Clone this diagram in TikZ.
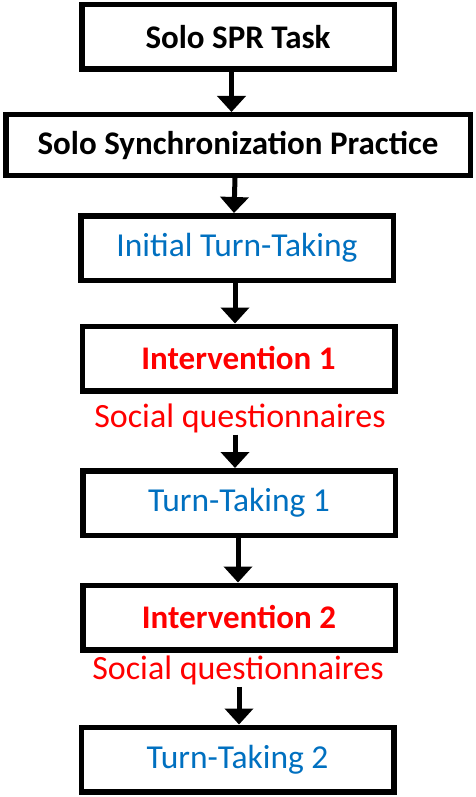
\documentclass[tikz,border=0pt]{standalone}
\usepackage{fontspec}
\setmainfont{Carlito}
\usetikzlibrary{arrows.meta}
\definecolor{ofblue}{RGB}{0,112,192}
\definecolor{ofred}{RGB}{255,0,0}
\tikzset{
  box/.style={draw=black, line width=5.5pt, fill=white, inner sep=0pt,
    minimum width=312.5pt, minimum height=64.5pt, align=center},
  conn/.style={line width=5pt, -{Triangle[width=28pt,length=16pt]}},
  blk/.style={font=\fontsize{33}{38}\selectfont\bfseries, text=black},
  blu/.style={font=\fontsize{33.5}{38}\selectfont, text=ofblue},
  rdb/.style={font=\fontsize{33}{38}\selectfont\bfseries, text=ofred},
  rdn/.style={font=\fontsize{34}{38}\selectfont, text=ofred, inner sep=0pt},
}
\begin{document}
\begin{tikzpicture}[x=1pt,y=-1pt]
\useasboundingbox (0,0) rectangle (475,797);
\node[box, blk] (b1) at (238,37) {Solo SPR Task};
\node[box, blk, minimum width=464.5pt, minimum height=60.5pt] (b2) at (238,145) {Solo Synchronization Practice};
\node[box, blu] (b3) at (237,248) {Initial Turn-Taking};
\node[box, rdb] (b4) at (238.5,358.5) {Intervention 1};
\node[rdn] (q1) at (240,418) {Social questionnaires};
\node[box, blu] (b5) at (239,503) {Turn-Taking 1};
\node[box, rdb] (b6) at (239,617.5) {Intervention 2};
\node[rdn] (q2) at (238,670) {Social questionnaires};
\node[box, blu] (b7) at (237.5,759.5) {Turn-Taking 2};
\draw[conn] ([xshift=-6.5pt]b1.south) -- ([xshift=-6.5pt]b2.north);
\draw[conn] ([xshift=-3pt]b2.south) -- ([xshift=-3pt]b3.north);
\draw[conn] ([xshift=-2pt]b3.south) -- ([xshift=-3.5pt]b4.north);
\draw[conn] ([xshift=-5pt,yshift=-2pt]q1.south) -- ([xshift=-4pt]b5.north);
\draw[conn] ([xshift=-1pt]b5.south) -- ([xshift=-1pt]b6.north);
\draw[conn] ([xshift=1pt,yshift=-2pt]q2.south) -- ([xshift=1.5pt]b7.north);
\end{tikzpicture}
\end{document}
